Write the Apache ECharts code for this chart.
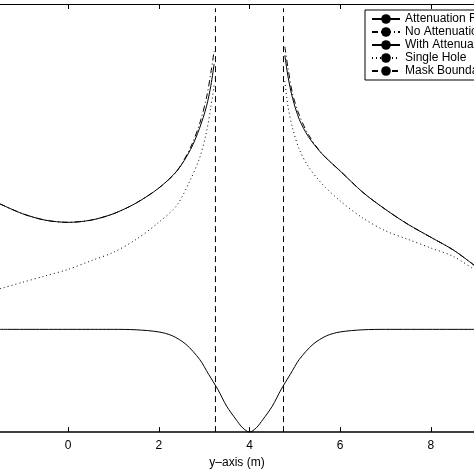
<!DOCTYPE html><html><head><meta charset="utf-8"><script src="https://cdn.jsdelivr.net/npm/echarts@6/dist/echarts.min.js"></script>
<style>html,body{margin:0;padding:0;background:#fff}#c{width:474px;height:474px}</style></head><body><div id="c"></div><script>
const xTicks=[0,2,4,6,8];
const attenuation=[[-1.5,0.24],[1,0.24],[1.5,0.239],[2,0.234],[2.3,0.225],[2.6,0.205],[2.9,0.17],[3.1,0.135],[3.3,0.1],[3.5,0.06],[3.7,0.03],[3.85,0.01],[4,0],[4.15,0.01],[4.3,0.03],[4.5,0.06],[4.7,0.1],[4.9,0.135],[5.1,0.17],[5.4,0.205],[5.7,0.225],[6,0.234],[6.5,0.239],[7,0.24],[8.95,0.24]];
const withAttL=[[-1.5,0.533],[-1,0.51],[-0.5,0.495],[0,0.49],[0.5,0.495],[1,0.51],[1.5,0.535],[2,0.57],[2.4,0.61],[2.7,0.66],[2.9,0.71],[3.05,0.76],[3.15,0.81],[3.22,0.86]];
const withAttR=[[4.78,0.88],[4.85,0.83],[4.95,0.78],[5.1,0.73],[5.3,0.69],[5.6,0.65],[6,0.61],[6.5,0.56],[7,0.52],[7.5,0.485],[8,0.455],[8.5,0.425],[8.95,0.39]];
const noAttL=[[-1.5,0.533],[-1,0.51],[-0.5,0.495],[0,0.49],[0.5,0.495],[1,0.51],[1.5,0.535],[2,0.57],[2.4,0.61],[2.7,0.665],[2.9,0.72],[3.05,0.78],[3.15,0.84],[3.22,0.89]];
const noAttR=[[4.78,0.9],[4.85,0.85],[4.95,0.79],[5.1,0.74],[5.3,0.695],[5.6,0.65],[6,0.61],[6.5,0.56],[7,0.52],[7.5,0.485],[8,0.455],[8.5,0.425],[8.95,0.39]];
const singleL=[[-1.5,0.335],[-1,0.35],[-0.5,0.365],[0,0.38],[0.5,0.4],[1,0.42],[1.5,0.45],[2,0.49],[2.4,0.53],[2.7,0.59],[2.9,0.64],[3.05,0.7],[3.15,0.76],[3.22,0.81]];
const singleR=[[4.78,0.82],[4.85,0.76],[4.95,0.71],[5.1,0.66],[5.3,0.62],[5.6,0.58],[6,0.54],[6.5,0.5],[7,0.47],[7.5,0.45],[8,0.43],[8.5,0.41],[8.95,0.38]];
const maskX=[3.25,4.75];
const names=['Attenuation Function','No Attenuation Compensation','With Attenuation Compensation','Single Hole','Mask Boundary'];
const c=echarts.init(document.getElementById('c'));
const ln=(name,data,type,w)=>({name,type:'line',data,smooth:0.3,showSymbol:false,symbol:'none',animation:false,lineStyle:{color:'#000',width:w||1,type},itemStyle:{color:'#000'}});
const vl=(name,x)=>({name,type:'line',data:[[x,0],[x,0.99]],showSymbol:false,symbol:'none',lineStyle:{color:'#000',width:1,type:[6,4]},itemStyle:{color:'#000'}});
c.setOption({animation:false,
grid:{left:0,right:0,top:4,bottom:33},
xAxis:[{type:'value',min:-1.5,max:8.95,interval:2,axisLine:{onZero:false,lineStyle:{color:'#000',width:1.5}},axisTick:{inside:true,length:5,lineStyle:{color:'#000'},customValues:xTicks},axisLabel:{customValues:xTicks,color:'#000',fontSize:12,fontFamily:'Liberation Sans',margin:8},splitLine:{show:false},
name:'y–axis (m)',nameLocation:'middle',nameGap:22,nameTextStyle:{color:'#000',fontSize:12,fontFamily:'Liberation Sans'}},
{type:'value',position:'top',min:-1.5,max:8.95,axisLine:{onZero:false,lineStyle:{color:'#000',width:1}},axisTick:{inside:true,length:5,lineStyle:{color:'#000'},customValues:xTicks},axisLabel:{show:false},splitLine:{show:false}}],
yAxis:{type:'value',min:0,max:1,show:false},
legend:{orient:'vertical',left:365,top:10,itemGap:1,itemWidth:28,itemHeight:12,padding:[3,6],borderColor:'#000',borderWidth:1,backgroundColor:'#fff',textStyle:{color:'#000',fontSize:12,fontFamily:'Liberation Sans'},data:names},
series:[ln(names[0],attenuation,'solid'),
ln(names[1],noAttL,[6,3,1,3]),ln(names[1],noAttR,[6,3,1,3]),
ln(names[2],withAttL,'solid'),ln(names[2],withAttR,'solid'),
ln(names[3],singleL,[1,3]),ln(names[3],singleR,[1,3]),
vl(names[4],maskX[0]),vl(names[4],maskX[1])]
});
</script></body></html>
